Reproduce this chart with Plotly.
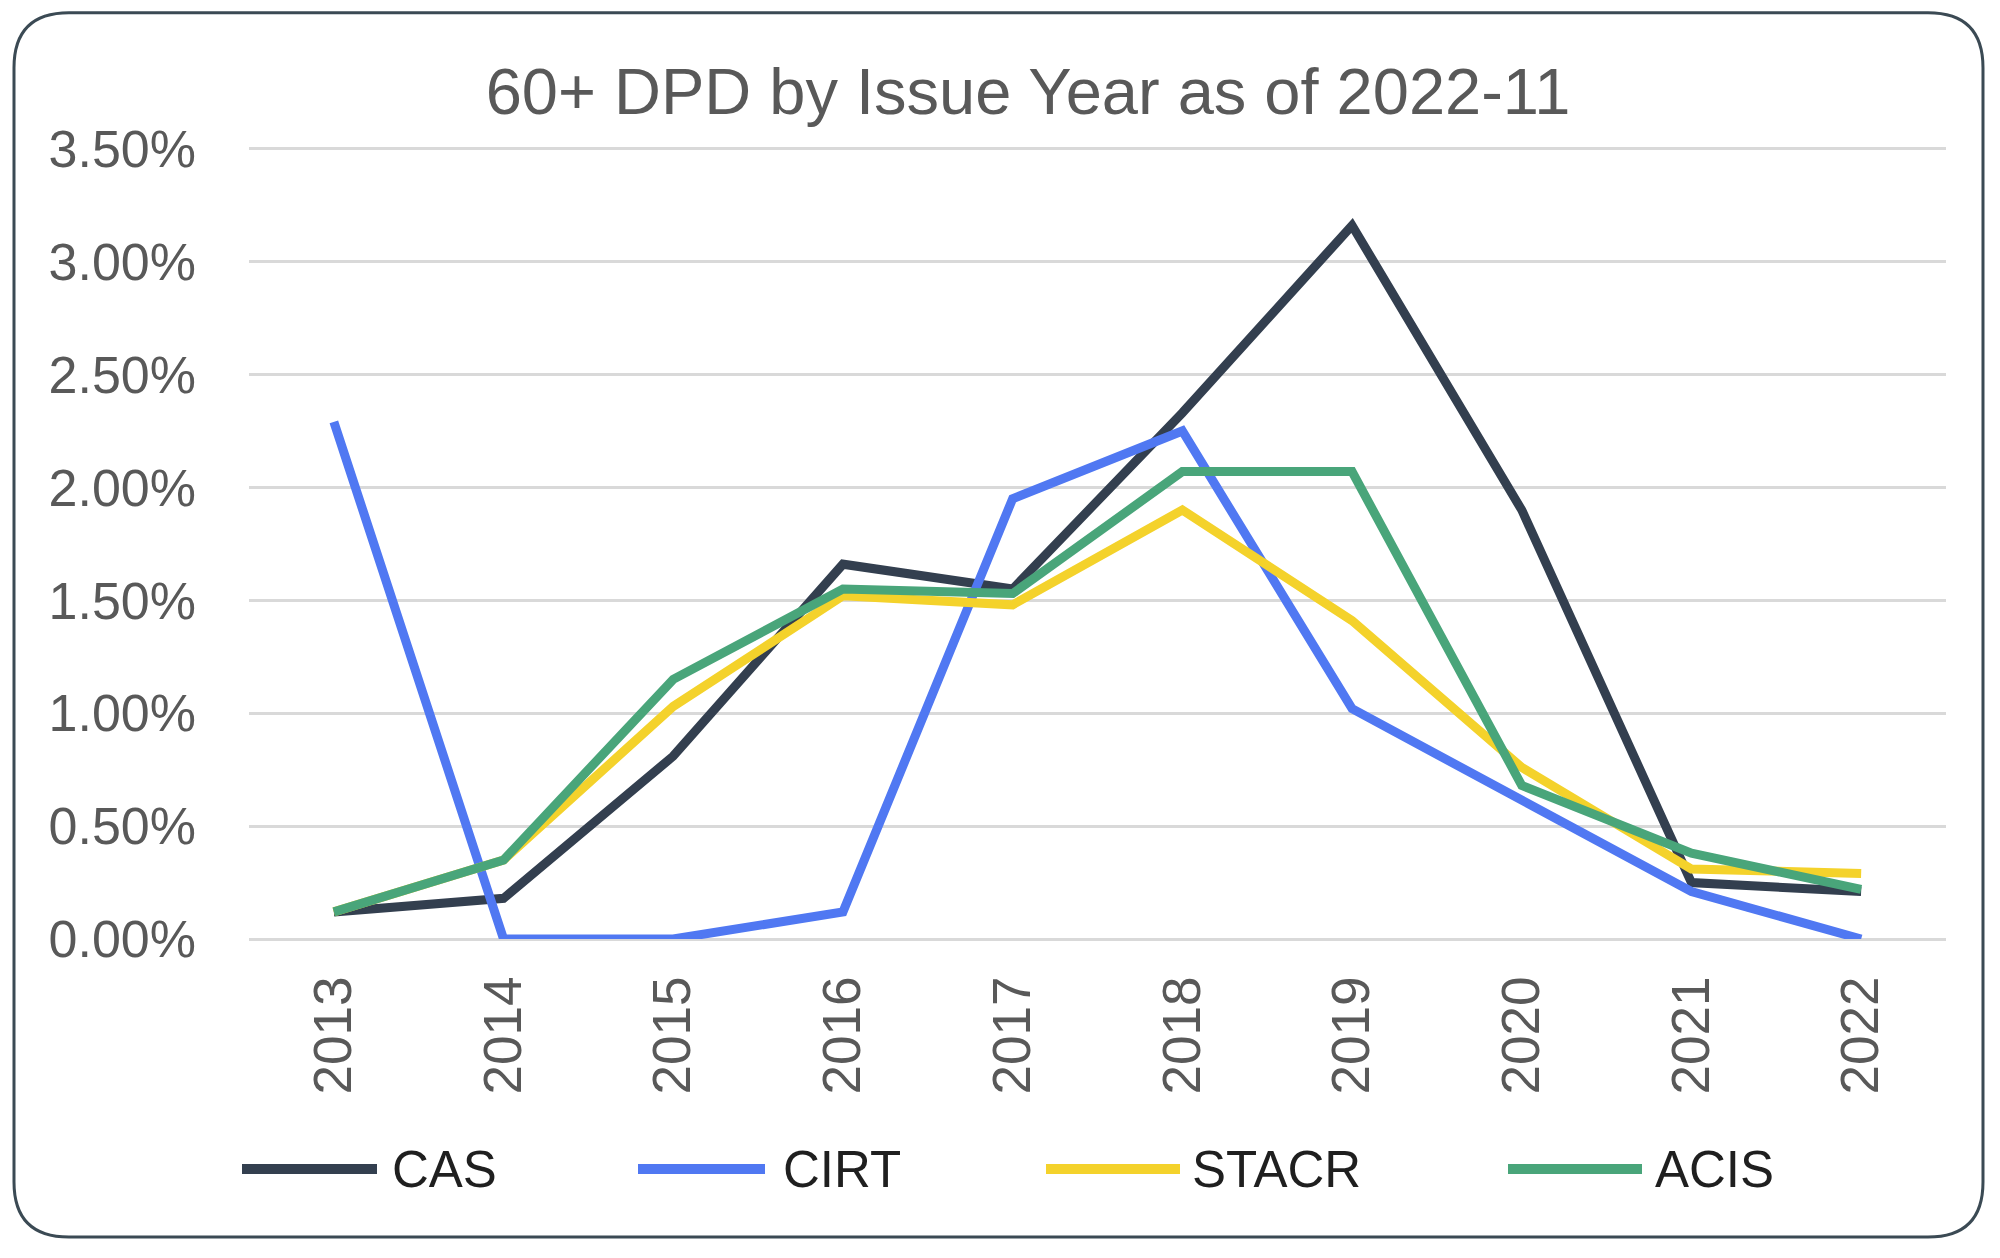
import plotly.graph_objects as go

# ---------------- data ----------------
years = ["2013", "2014", "2015", "2016", "2017", "2018", "2019", "2020", "2021", "2022"]
series_names = ["CAS", "CIRT", "STACR", "ACIS"]
cas = [0.12, 0.18, 0.81, 1.66, 1.55, 2.33, 3.16, 1.90, 0.25, 0.21]
cirt = [2.29, 0.00, 0.00, 0.12, 1.95, 2.25, 1.02, 0.62, 0.21, 0.00]
stacr = [0.12, 0.35, 1.03, 1.52, 1.48, 1.90, 1.41, 0.76, 0.31, 0.29]
acis = [0.12, 0.35, 1.15, 1.55, 1.53, 2.07, 2.07, 0.68, 0.38, 0.22]
y_ticks = [0.0, 0.5, 1.0, 1.5, 2.0, 2.5, 3.0, 3.5]
y_tick_labels = [f"{v:.2f}%" for v in y_ticks]
title_text = "60+ DPD by Issue Year as of 2022-11"

# ---------------- style / layout ----------------
W, H = 2000, 1258
L, R, B = 249, 1946, 939
Y_TOP_PX = 149            # pixel position of the 3.50% gridline
Y_MAX = 3.5
Y_PAD = 0.012             # small headroom so the top gridline is drawn
px_per_unit = (B - Y_TOP_PX) / Y_MAX
T = Y_TOP_PX - Y_PAD * px_per_unit
colors = ["#333f4f", "#5078f2", "#f4d22b", "#49a57a"]
font_family = "Liberation Sans, Arial, sans-serif"


def px_x(p):
    return (p - L) / (R - L)


def px_y(p):
    return (B - p) / (B - T)


fig = go.Figure()
for name, vals, col in zip(series_names, [cas, cirt, stacr, acis], colors):
    fig.add_trace(go.Scatter(
        x=years, y=vals, mode="lines", name=name,
        line=dict(color=col, width=9),
        showlegend=False,
    ))

# rounded border of the chart area
bx0, bx1, by0, by1, r = 14, 1983, 13, 1237, 55
pts = [
    ("M", [(bx0 + r, by0)]),
    ("L", [(bx1 - r, by0)]),
    ("Q", [(bx1, by0), (bx1, by0 + r)]),
    ("L", [(bx1, by1 - r)]),
    ("Q", [(bx1, by1), (bx1 - r, by1)]),
    ("L", [(bx0 + r, by1)]),
    ("Q", [(bx0, by1), (bx0, by1 - r)]),
    ("L", [(bx0, by0 + r)]),
    ("Q", [(bx0, by0), (bx0 + r, by0)]),
]
path = ""
for cmd, plist in pts:
    path += cmd + " " + " ".join(f"{px_x(a):.5f},{px_y(b):.5f}" for a, b in plist) + " "
path += "Z"
shapes = [dict(type="path", xref="paper", yref="paper", path=path,
               line=dict(color="#3b4a54", width=3), layer="below")]

# custom legend (long line samples like the original)
leg_lines = [(242, 377), (638, 765), (1046, 1180), (1508, 1642)]
leg_text_x = [390, 781, 1190, 1653]
leg_y = 1169
annotations = []
for name, col, (lx0, lx1), tx in zip(series_names, colors, leg_lines, leg_text_x):
    shapes.append(dict(type="line", xref="paper", yref="paper",
                       x0=px_x(lx0), x1=px_x(lx1), y0=px_y(leg_y), y1=px_y(leg_y),
                       line=dict(color=col, width=10)))
    annotations.append(dict(xref="paper", yref="paper", x=px_x(tx), y=px_y(leg_y),
                            xanchor="left", yanchor="middle", showarrow=False,
                            text=name, font=dict(family=font_family, size=51, color="#1f1f1f")))

fig.update_layout(
    width=W, height=H,
    margin=dict(l=L, r=W - R, t=T, b=H - B, pad=0),
    paper_bgcolor="white", plot_bgcolor="white",
    title=dict(text=title_text, x=1028 / W, xanchor="center", y=1 - 91 / H, yanchor="middle",
               font=dict(family=font_family, size=65, color="#595959")),
    xaxis=dict(type="category", range=[-0.5, 9.5], showgrid=False, zeroline=False,
               showline=False, ticks="", tickangle=-90, ticklabelstandoff=26,
               tickfont=dict(family=font_family, size=53, color="#595959")),
    yaxis=dict(range=[0, Y_MAX + Y_PAD], tickvals=y_ticks, ticktext=y_tick_labels,
               showgrid=True, gridcolor="#d9d9d9", gridwidth=3,
               zeroline=True, zerolinecolor="#d9d9d9", zerolinewidth=3,
               showline=False, ticks="", ticklabelstandoff=52,
               tickfont=dict(family=font_family, size=52, color="#595959")),
    shapes=shapes,
    annotations=annotations,
)

fig.write_html("out.html")
